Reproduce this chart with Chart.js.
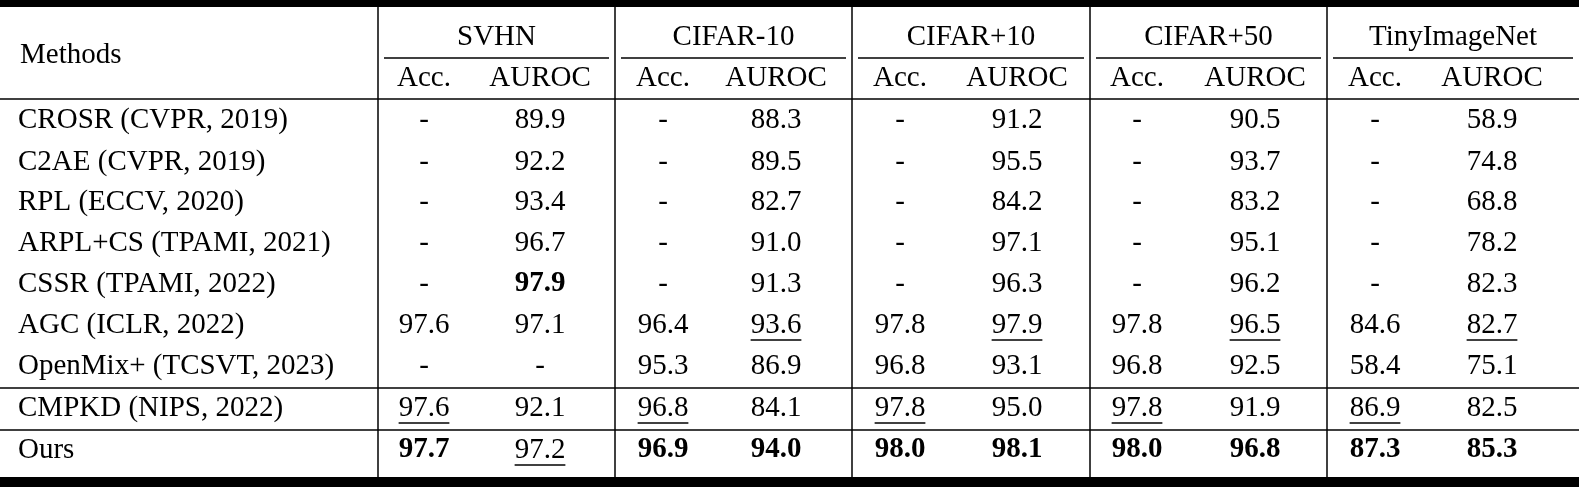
<!DOCTYPE html>
<html><head><meta charset="utf-8">
<script src="https://cdn.jsdelivr.net/npm/chart.js@4"></script>
<style>html,body{margin:0;padding:0;background:#fff}#w{width:1579px;height:488px}</style>
</head><body><div id="w"><canvas id="c"></canvas></div>
<script>
const methods=["CROSR (CVPR, 2019)","C2AE (CVPR, 2019)","RPL (ECCV, 2020)","ARPL+CS (TPAMI, 2021)","CSSR (TPAMI, 2022)","AGC (ICLR, 2022)","OpenMix+ (TCSVT, 2023)","CMPKD (NIPS, 2022)","Ours"];
const groups=["SVHN","CIFAR-10","CIFAR+10","CIFAR+50","TinyImageNet"];
const subHeaders=["Acc.","AUROC"];
const values=[
["-","89.9","-","88.3","-","91.2","-","90.5","-","58.9"],
["-","92.2","-","89.5","-","95.5","-","93.7","-","74.8"],
["-","93.4","-","82.7","-","84.2","-","83.2","-","68.8"],
["-","96.7","-","91.0","-","97.1","-","95.1","-","78.2"],
["-","97.9","-","91.3","-","96.3","-","96.2","-","82.3"],
["97.6","97.1","96.4","93.6","97.8","97.9","97.8","96.5","84.6","82.7"],
["-","-","95.3","86.9","96.8","93.1","96.8","92.5","58.4","75.1"],
["97.6","92.1","96.8","84.1","97.8","95.0","97.8","91.9","86.9","82.5"],
["97.7","97.2","96.9","94.0","98.0","98.1","98.0","96.8","87.3","85.3"]];
// style flags: b=bold, u=underline
const styles=[
"..........","..........","..........","..........",".b........",
"...u.u.u.u","..........","u.u.u.u.u.","bubbbbbbbb"];
const colX=[424,540,663,776,900,1017,1137,1255,1375,1492];
const groupEdges=[378,615,852,1090,1327,1579];
const rowY=[120,162,202,243,284,325,366,408,450];

const tablePlugin={id:'table',afterDraw(ch){
 const c=ch.ctx,X=ch.scales.x,Y=ch.scales.y;
 const px=v=>X.getPixelForValue(v),py=v=>Y.getPixelForValue(v);
 c.save();c.fillStyle='#000';c.strokeStyle='#000';c.textBaseline='middle';
 const F=(b)=>(b?'bold ':'')+'29px "Liberation Serif", "DejaVu Serif", serif';
 const hl=(y,w,x0=0,x1=1579)=>{c.lineWidth=w;c.beginPath();c.moveTo(px(x0),py(y));c.lineTo(px(x1),py(y));c.stroke();};
 hl(3.5,7);hl(99,1.5);hl(388,1.5);hl(430,1.5);hl(482,10);
 for(let g=0;g<5;g++) hl(58,1.5,groupEdges[g]+6,groupEdges[g+1]-6);
 c.lineWidth=1.5;
 for(let i=0;i<5;i++){c.beginPath();c.moveTo(px(groupEdges[i]),py(7));c.lineTo(px(groupEdges[i]),py(477));c.stroke();}
 c.font=F(false);c.textAlign='left';
 c.fillText("Methods",px(20),py(55));
 c.textAlign='center';
 groups.forEach((g,i)=>c.fillText(g,px((groupEdges[i]+groupEdges[i+1])/2),py(37)));
 colX.forEach((x,i)=>c.fillText(subHeaders[i%2],px(x),py(78)));
 methods.forEach((m,r)=>{
  c.font=F(false);c.textAlign='left';c.fillText(m,px(18),py(rowY[r]));
  c.textAlign='center';
  values[r].forEach((v,k)=>{
   const s=styles[r][k];c.font=F(s==='b');
   const x=px(colX[k]),y=py(rowY[r]);c.fillText(v,x,y);
   if(s==='u'){const w=c.measureText(v).width;c.lineWidth=1.5;c.beginPath();c.moveTo(x-w/2,y+15);c.lineTo(x+w/2,y+15);c.stroke();}
  });
 });
 c.restore();}};

new Chart(document.getElementById('c'),{type:'scatter',
 data:{datasets:[{data:[],pointRadius:0}]},
 options:{responsive:true,maintainAspectRatio:false,animation:false,
  layout:{padding:0},plugins:{legend:{display:false},tooltip:{enabled:false}},
  scales:{x:{type:'linear',min:0,max:1579,display:false},y:{type:'linear',min:0,max:488,reverse:true,display:false}}},
 plugins:[tablePlugin]});
</script></body></html>
